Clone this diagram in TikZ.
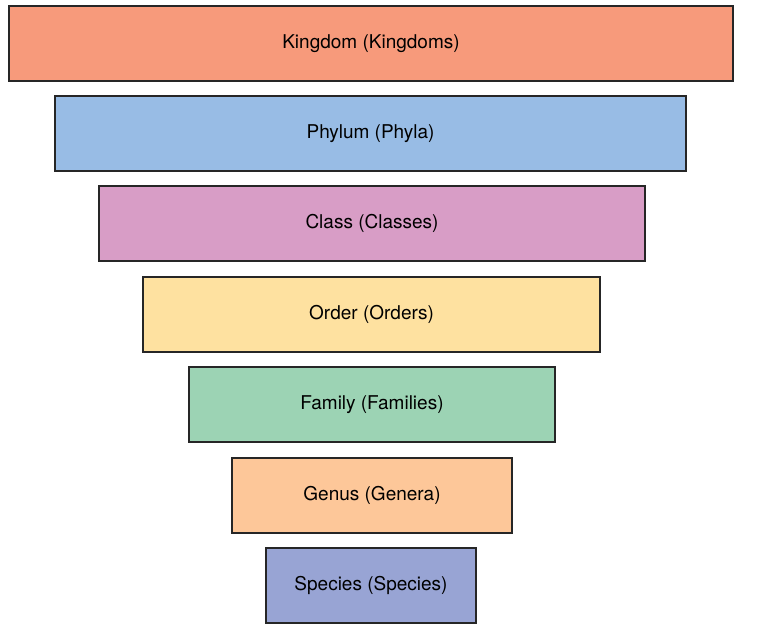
\documentclass[tikz,border=0pt]{standalone}
\usepackage{fontspec}
\setmainfont{TeX Gyre Heros}
\definecolor{c1}{HTML}{F79A7B}
\definecolor{c2}{HTML}{98BCE5}
\definecolor{c3}{HTML}{D89DC6}
\definecolor{c4}{HTML}{FEE1A0}
\definecolor{c5}{HTML}{9CD3B4}
\definecolor{c6}{HTML}{FDC799}
\definecolor{c7}{HTML}{98A4D4}
\tikzset{lvl/.style={draw=black!85,line width=1.2pt}}
\begin{document}
\begin{tikzpicture}[x=1pt,y=-1pt]
\useasboundingbox (0,0) rectangle (768,634);
\foreach \n/\a/\b/\t/\c/\txt in {
k/9/733/6/c1/Kingdom (Kingdoms),
p/55/686/96/c2/Phylum (Phyla),
cl/99/645/186/c3/Class (Classes),
o/143/600/277/c4/Order (Orders),
f/189/555/367/c5/Family (Families),
g/232/512/458/c6/Genus (Genera),
s/266/476/548/c7/Species (Species)}{
  \filldraw[lvl,fill=\c] (\a,\t) rectangle (\b,\t+75);
  \node[font=\fontsize{19}{22}\selectfont] (\n) at ({(\a+\b)/2},\t+37.5) {\txt};
}
\end{tikzpicture}
\end{document}
